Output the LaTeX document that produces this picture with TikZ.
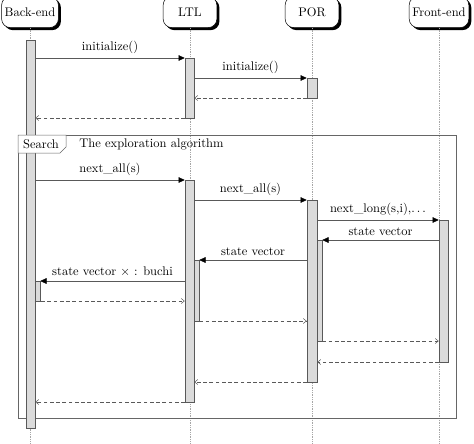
\documentclass[tikz,border=0pt]{standalone}
\usetikzlibrary{arrows.meta,shadows,fit,positioning}

\tikzset{
  actor/.style={draw, rounded corners=7pt, fill=white, minimum width=43pt, minimum height=25pt,
    inner xsep=2.5pt, drop shadow={fill=black, opacity=1, shadow xshift=2pt, shadow yshift=-2pt}},
  life/.style={densely dotted, gray!70, thin},
  bar/.style={draw=black!65, fill=black!14, inner sep=0pt, thin},
  call/.style={draw=black!65, -{Triangle[black, length=5pt, width=4.5pt]}},
  ret/.style={draw=black!65, dash pattern=on 3pt off 2pt, -{Straight Barb[length=2.5pt, width=4pt]}},
  lbl/.style={above=0pt, text=black},
  frm/.style={draw=black!60, thin}
}

\begin{document}
\begin{tikzpicture}[x=0.8pt, y=-0.8pt]
\useasboundingbox (0,0) rectangle (474,443);

%actors
\node[actor] (be) at (30,12) {Back-end};
\node[actor] (ltl) at (190,12) {LTL};
\node[actor] (por) at (312,12) {POR};
\node[actor] (fe) at (439,12) {Front-end};

%lifelines
\coordinate (bot) at (0,443);
\foreach \a in {be,ltl,por,fe}
  \draw[life] (\a.south) -- (\a.south |- bot);

%frame
\draw[frm] (18,135) rectangle (456,418);
\node[anchor=west] (algo) at (75,144) {The exploration algorithm};

%activations
\node[bar, fit={(26,40) (35,428)}] (beA) {};
\node[bar, fit={(185,58) (194,118)}] (ltlA) {};
\node[bar, fit={(307,78) (317,98)}] (porA) {};
\node[bar, fit={(185,180) (194,402)}] (ltlB) {};
\node[bar, fit={(307,200) (317,382)}] (porB) {};
\node[bar, fit={(439,220) (448,362)}] (feB) {};
\node[bar, fit={(317,240) (322,341)}] (porC) {};
\node[bar, fit={(194,260) (199,321)}] (ltlC) {};
\node[bar, fit={(35,281) (40,301)}] (beC) {};

%frame label
\filldraw[frm, fill=white] (18,135) -- (18,153) -- (60,153) -- (66,147) -- (66,135) -- cycle;
\node (srch) at (41,144) {Search};

%rows
\coordinate (r1) at (0,58);   \coordinate (r2) at (0,78);
\coordinate (r3) at (0,98);   \coordinate (r4) at (0,118);
\coordinate (r5) at (0,180);  \coordinate (r6) at (0,200);
\coordinate (r7) at (0,220);  \coordinate (r8) at (0,240);
\coordinate (r9) at (0,260);  \coordinate (r10) at (0,281);
\coordinate (r11) at (0,301); \coordinate (r12) at (0,321);
\coordinate (r13) at (0,341); \coordinate (r14) at (0,362);
\coordinate (r15) at (0,382); \coordinate (r16) at (0,402);

%init
\draw[call] (beA.east |- r1) -- (ltlA.west |- r1) node[midway, lbl] {initialize()};
\draw[call] (ltlA.east |- r2) -- (porA.west |- r2) node[midway, lbl] {initialize()};
\draw[ret] (porA.west |- r3) -- (ltlA.east |- r3);
\draw[ret] (ltlA.west |- r4) -- (beA.east |- r4);

%search
\draw[call] (beA.east |- r5) -- (ltlB.west |- r5) node[midway, lbl] {next\_all(s)};
\draw[call] (ltlB.east |- r6) -- (porB.west |- r6) node[midway, lbl] {next\_all(s)};
\draw[call] (porB.east |- r7) -- (feB.west |- r7) node[midway, lbl] {next\_long(s,i),$\ldots$};
\draw[call] (feB.west |- r8) -- (porC.east |- r8) node[midway, lbl] {state vector};
\draw[call] (porB.west |- r9) -- (ltlC.east |- r9) node[midway, lbl] {state vector};
\draw[call] (ltlB.west |- r10) -- (beC.east |- r10) node[midway, lbl] {state vector $\times$ : buchi};
\draw[ret] (beC.west |- r11) -- (ltlB.west |- r11);
\draw[ret] (ltlC.east |- r12) -- (porB.west |- r12);
\draw[ret] (porC.east |- r13) -- (feB.west |- r13);
\draw[ret] (feB.west |- r14) -- (porB.east |- r14);
\draw[ret] (porB.west |- r15) -- (ltlB.east |- r15);
\draw[ret] (ltlB.west |- r16) -- (beA.east |- r16);
\end{tikzpicture}
\end{document}
